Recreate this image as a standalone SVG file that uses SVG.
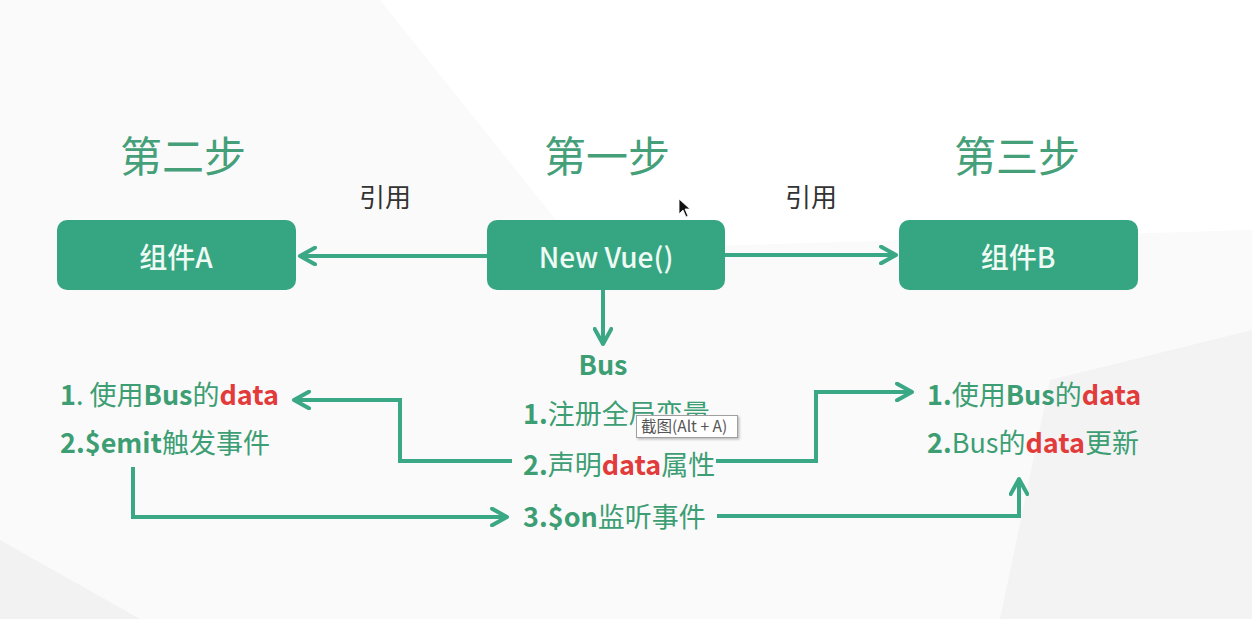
<svg xmlns="http://www.w3.org/2000/svg" width="1252" height="619" viewBox="0 0 1252 619">
<defs>
<style>
.t{font-family:"Noto Sans CJK SC","Noto Sans",sans-serif;}
.title{font-size:42px;fill:#45a07a;text-anchor:middle;font-weight:400;}
.ref{font-size:26px;fill:#333;text-anchor:middle;}
.box{fill:#36a682;}
.bt{font-size:28px;fill:#eefaf3;text-anchor:middle;dominant-baseline:central;font-weight:500;}
.g{font-size:27px;fill:#3d9e74;}
.b{font-weight:700;}
.r{fill:#e23b3b;font-weight:700;}
.c{fill:none;stroke:#3aa884;stroke-width:4;stroke-linejoin:miter;}
</style>
<marker id="ah" viewBox="0 0 12 12" refX="10" refY="6" markerWidth="5" markerHeight="5" orient="auto" markerUnits="strokeWidth">
<path d="M1,1 L10,6 L1,11" fill="none" stroke="#3aa884" stroke-width="2.4" stroke-linecap="round" stroke-linejoin="round"/>
</marker>
<filter id="sh" x="-10%" y="-20%" width="130%" height="160%">
<feDropShadow dx="1.5" dy="1.5" stdDeviation="1" flood-color="#000" flood-opacity="0.25"/>
</filter>
</defs>
<rect width="1252" height="619" fill="#fafafa"/>
<polygon points="0,0 380,0 580,250 1252,230 1252,0" fill="#ffffff"/>
<polygon points="1050,380 1252,330 1252,619 1000,619" fill="#f3f3f3"/>
<polygon points="0,540 0,619 140,619" fill="#f2f2f2"/>

<g id="titles" class="t">
<text class="t title" x="183" y="172">第二步</text>
<text class="t title" x="607" y="172">第一步</text>
<text class="t title" x="1017" y="172">第三步</text>
<text class="t ref" x="385" y="207">引用</text>
<text class="t ref" x="811" y="207">引用</text>
</g>

<g id="connectors">
<line class="c" x1="487" y1="256" x2="300" y2="256" marker-end="url(#ah)"/>
<line class="c" x1="725" y1="255" x2="896" y2="255" marker-end="url(#ah)"/>
<line class="c" x1="603" y1="290" x2="603" y2="344" marker-end="url(#ah)"/>
<polyline class="c" points="512,461 400,461 400,400 294,400" marker-end="url(#ah)"/>
<polyline class="c" points="716,461 816,461 816,392 912,392" marker-end="url(#ah)"/>
<polyline class="c" points="133,467 133,517 507,517" marker-end="url(#ah)"/>
<polyline class="c" points="717,516 1019,516 1019,479" marker-end="url(#ah)"/>
</g>

<g id="nodeA">
<rect class="box" x="57" y="220" width="239" height="70" rx="10"/>
<text class="t bt" x="176" y="256">组件A</text>
</g>
<g id="nodeVue">
<rect class="box" x="487" y="220" width="238" height="70" rx="10"/>
<text class="t bt" x="606" y="256">New Vue()</text>
</g>
<g id="nodeB">
<rect class="box" x="899" y="220" width="239" height="70" rx="10"/>
<text class="t bt" x="1018" y="256">组件B</text>
</g>

<g id="bus" class="t">
<text class="t g b" x="603" y="375" text-anchor="middle" font-size="29">Bus</text>
<text class="t g" x="523" y="424"><tspan class="b">1.</tspan>注册全局变量</text>
<text class="t g" x="523" y="475"><tspan class="b">2.</tspan>声明<tspan class="r">data</tspan>属性</text>
<text class="t g" x="523" y="527"><tspan class="b">3.$on</tspan>监听事件</text>
</g>

<g id="leftText" class="t">
<text class="t g" x="60" y="405"><tspan class="b">1</tspan>. 使用<tspan class="b">Bus</tspan>的<tspan class="r">data</tspan></text>
<text class="t g" x="60" y="453"><tspan class="b">2.$emit</tspan>触发事件</text>
</g>

<g id="rightText" class="t">
<text class="t g" x="927" y="405"><tspan class="b">1.</tspan>使用<tspan class="b">Bus</tspan>的<tspan class="r">data</tspan></text>
<text class="t g" x="927" y="453"><tspan class="b">2.</tspan>Bus的<tspan class="r">data</tspan>更新</text>
</g>

<g id="tooltip">
<rect x="636.5" y="415.5" width="101" height="22" fill="#ffffff" stroke="#a0a0a0" stroke-width="1" filter="url(#sh)"/>
<text class="t" x="641" y="432" font-size="15.5" fill="#555">截图(Alt + A)</text>
</g>

<g id="cursor">
<polygon points="679,199 679,214 683,210 686,217 688,216 685,209 690,209" fill="#111" stroke="#fff" stroke-width="0.8"/>
</g>
</svg>
